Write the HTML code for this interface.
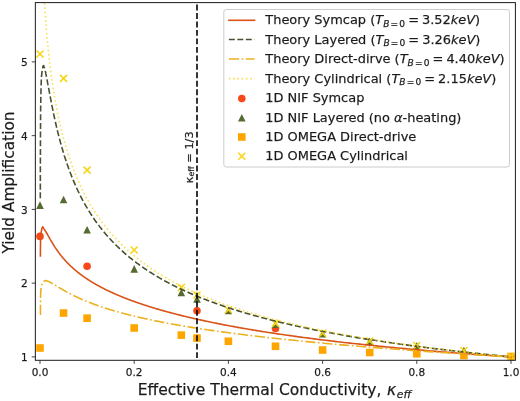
<!DOCTYPE html>
<html lang="en"><head><meta charset="utf-8"><title>Yield Amplification vs Effective Thermal Conductivity</title>
<style>html,body{margin:0;padding:0;background:#fff}svg{display:block}text{stroke:#1a1a1a;stroke-width:0.25px;stroke-opacity:0.8}</style></head>
<body>
<svg width="520" height="401" viewBox="0 0 520 401" font-family="'DejaVu Sans','Liberation Sans',sans-serif">
<rect width="520" height="401" fill="#fff"/>
<defs><clipPath id="ax"><rect x="35.35" y="2.6" width="480.04999999999995" height="357.7"/></clipPath></defs>
<g>
<circle cx="40.00" cy="236.41" r="3.80" fill="#f8481a"/>
<circle cx="87.10" cy="266.25" r="3.80" fill="#f8481a"/>
<circle cx="197.00" cy="310.82" r="3.80" fill="#f8481a"/>
<circle cx="275.50" cy="328.50" r="3.80" fill="#f8481a"/>
<path d="M40.00 201.30 L43.80 208.90 L36.20 208.90Z" fill="#556b2f"/>
<path d="M63.55 195.77 L67.35 203.37 L59.75 203.37Z" fill="#556b2f"/>
<path d="M87.10 225.98 L90.90 233.58 L83.30 233.58Z" fill="#556b2f"/>
<path d="M134.20 265.03 L138.00 272.63 L130.40 272.63Z" fill="#556b2f"/>
<path d="M181.30 288.75 L185.10 296.35 L177.50 296.35Z" fill="#556b2f"/>
<path d="M197.00 295.23 L200.80 302.83 L193.20 302.83Z" fill="#556b2f"/>
<path d="M228.40 306.65 L232.20 314.25 L224.60 314.25Z" fill="#556b2f"/>
<path d="M275.50 320.28 L279.30 327.88 L271.70 327.88Z" fill="#556b2f"/>
<path d="M322.60 329.86 L326.40 337.46 L318.80 337.46Z" fill="#556b2f"/>
<path d="M369.70 337.45 L373.50 345.05 L365.90 345.05Z" fill="#556b2f"/>
<path d="M416.80 341.94 L420.60 349.54 L413.00 349.54Z" fill="#556b2f"/>
<path d="M463.90 346.81 L467.70 354.41 L460.10 354.41Z" fill="#556b2f"/>
<path d="M511.00 352.70 L514.80 360.30 L507.20 360.30Z" fill="#556b2f"/>
<rect x="36.20" y="344.23" width="7.60" height="7.60" fill="#ffa500"/>
<rect x="59.75" y="309.23" width="7.60" height="7.60" fill="#ffa500"/>
<rect x="83.30" y="314.39" width="7.60" height="7.60" fill="#ffa500"/>
<rect x="130.40" y="324.19" width="7.60" height="7.60" fill="#ffa500"/>
<rect x="177.50" y="331.33" width="7.60" height="7.60" fill="#ffa500"/>
<rect x="193.20" y="334.28" width="7.60" height="7.60" fill="#ffa500"/>
<rect x="224.60" y="337.45" width="7.60" height="7.60" fill="#ffa500"/>
<rect x="271.70" y="342.46" width="7.60" height="7.60" fill="#ffa500"/>
<rect x="318.80" y="346.22" width="7.60" height="7.60" fill="#ffa500"/>
<rect x="365.90" y="348.72" width="7.60" height="7.60" fill="#ffa500"/>
<rect x="413.00" y="349.97" width="7.60" height="7.60" fill="#ffa500"/>
<rect x="460.10" y="351.67" width="7.60" height="7.60" fill="#ffa500"/>
<rect x="507.20" y="352.70" width="7.60" height="7.60" fill="#ffa500"/>
<path d="M36.50 50.57 L43.50 57.56 M36.50 57.56 L43.50 50.57" stroke="#f7d512" stroke-width="1.55" fill="none"/>
<path d="M60.05 74.88 L67.05 81.87 M60.05 81.87 L67.05 74.88" stroke="#f7d512" stroke-width="1.55" fill="none"/>
<path d="M83.60 166.61 L90.60 173.60 M83.60 173.60 L90.60 166.61" stroke="#f7d512" stroke-width="1.55" fill="none"/>
<path d="M130.70 246.54 L137.70 253.54 M130.70 253.54 L137.70 246.54" stroke="#f7d512" stroke-width="1.55" fill="none"/>
<path d="M177.80 284.04 L184.80 291.04 M177.80 291.04 L184.80 284.04" stroke="#f7d512" stroke-width="1.55" fill="none"/>
<path d="M193.50 291.56 L200.50 298.55 M193.50 298.55 L200.50 291.56" stroke="#f7d512" stroke-width="1.55" fill="none"/>
<path d="M224.90 306.22 L231.90 313.21 M224.90 313.21 L231.90 306.22" stroke="#f7d512" stroke-width="1.55" fill="none"/>
<path d="M272.00 319.85 L279.00 326.84 M272.00 326.84 L279.00 319.85" stroke="#f7d512" stroke-width="1.55" fill="none"/>
<path d="M319.10 329.80 L326.10 336.79 M319.10 336.79 L326.10 329.80" stroke="#f7d512" stroke-width="1.55" fill="none"/>
<path d="M366.20 337.53 L373.20 344.52 M366.20 344.52 L373.20 337.53" stroke="#f7d512" stroke-width="1.55" fill="none"/>
<path d="M413.30 341.95 L420.30 348.94 M413.30 348.94 L420.30 341.95" stroke="#f7d512" stroke-width="1.55" fill="none"/>
<path d="M460.40 346.96 L467.40 353.95 M460.40 353.95 L467.40 346.96" stroke="#f7d512" stroke-width="1.55" fill="none"/>
<path d="M507.50 353.00 L514.50 360.00 M507.50 360.00 L514.50 353.00" stroke="#f7d512" stroke-width="1.55" fill="none"/>
</g>
<g clip-path="url(#ax)" fill="none" stroke-linejoin="round">
<path d="M40.40 256.00 L40.40 255.26 L40.40 254.53 L40.41 253.79 L40.41 253.06 L40.41 252.32 L40.42 251.58 L40.43 250.85 L40.43 250.11 L40.44 249.38 L40.45 248.64 L40.46 247.91 L40.47 247.17 L40.48 246.43 L40.49 245.70 L40.50 244.96 L40.51 244.23 L40.53 243.49 L40.54 242.75 L40.56 242.02 L40.58 241.28 L40.60 240.55 L40.63 239.81 L40.66 239.07 L40.69 238.34 L40.72 237.60 L40.76 236.87 L40.82 236.13 L40.88 235.39 L40.96 234.66 L41.03 233.92 L41.12 233.19 L41.21 232.45 L41.30 231.72 L41.42 230.98 L41.55 230.24 L41.69 229.51 L41.85 228.77 L42.06 228.04 L42.30 227.30 L42.60 226.80 L42.90 226.91 L42.93 226.98 L42.96 227.06 L42.99 227.13 L43.02 227.20 L43.05 227.27 L43.08 227.33 L43.11 227.40 L43.15 227.47 L43.18 227.53 L43.21 227.60 L43.24 227.66 L43.28 227.73 L43.31 227.79 L43.35 227.85 L43.38 227.91 L43.41 227.97 L43.45 228.03 L43.48 228.09 L43.52 228.15 L43.56 228.22 L43.59 228.28 L43.63 228.34 L43.67 228.39 L43.70 228.45 L43.74 228.51 L43.78 228.57 L43.82 228.63 L43.86 228.70 L43.90 228.76 L43.94 228.82 L43.98 228.88 L44.02 228.94 L44.06 229.00 L44.10 229.06 L44.14 229.13 L44.19 229.19 L44.23 229.25 L44.27 229.32 L44.32 229.38 L44.36 229.45 L44.41 229.51 L44.45 229.58 L44.50 229.65 L44.54 229.72 L44.59 229.79 L44.64 229.86 L44.68 229.93 L44.73 230.00 L44.78 230.07 L44.83 230.15 L44.88 230.22 L44.93 230.30 L44.98 230.38 L45.03 230.45 L45.08 230.53 L45.13 230.61 L45.19 230.70 L45.24 230.78 L45.29 230.86 L45.35 230.95 L45.40 231.03 L45.46 231.12 L45.51 231.21 L45.57 231.30 L45.63 231.39 L45.69 231.48 L45.74 231.58 L45.80 231.67 L45.86 231.77 L45.92 231.87 L45.98 231.97 L46.04 232.07 L46.11 232.17 L46.17 232.27 L46.23 232.38 L46.30 232.48 L46.36 232.59 L46.43 232.70 L46.49 232.81 L46.56 232.93 L46.63 233.04 L46.69 233.15 L46.76 233.27 L46.83 233.39 L46.90 233.51 L46.97 233.63 L47.04 233.76 L47.12 233.88 L47.19 234.01 L47.26 234.13 L47.34 234.26 L47.41 234.39 L47.49 234.53 L47.57 234.66 L47.64 234.80 L47.72 234.93 L47.80 235.07 L47.88 235.21 L47.96 235.36 L48.04 235.50 L48.13 235.65 L48.21 235.79 L48.29 235.94 L48.38 236.09 L48.46 236.24 L48.55 236.40 L48.64 236.55 L48.73 236.71 L48.82 236.87 L48.91 237.03 L49.00 237.19 L49.09 237.35 L49.18 237.51 L49.28 237.68 L49.37 237.85 L49.47 238.02 L49.57 238.19 L49.66 238.36 L49.76 238.54 L49.86 238.71 L49.96 238.89 L50.07 239.07 L50.17 239.25 L50.27 239.43 L50.38 239.61 L50.49 239.80 L50.59 239.98 L50.70 240.17 L50.81 240.36 L50.92 240.55 L51.03 240.74 L51.15 240.94 L51.26 241.13 L51.38 241.33 L51.49 241.53 L51.61 241.73 L51.73 241.93 L51.85 242.13 L51.97 242.34 L52.10 242.54 L52.22 242.75 L52.34 242.96 L52.47 243.17 L52.60 243.38 L52.73 243.59 L52.86 243.80 L52.99 244.02 L53.12 244.23 L53.26 244.45 L53.39 244.67 L53.53 244.89 L53.67 245.11 L53.81 245.34 L53.95 245.56 L54.09 245.79 L54.24 246.01 L54.39 246.24 L54.53 246.47 L54.68 246.70 L54.83 246.94 L54.98 247.17 L55.14 247.40 L55.29 247.64 L55.45 247.88 L55.61 248.11 L55.77 248.35 L55.93 248.59 L56.09 248.84 L56.26 249.08 L56.43 249.32 L56.59 249.57 L56.76 249.81 L56.94 250.06 L57.11 250.31 L57.28 250.56 L57.46 250.81 L57.64 251.06 L57.82 251.31 L58.00 251.57 L58.19 251.82 L58.38 252.08 L58.56 252.33 L58.75 252.59 L58.95 252.85 L59.14 253.11 L59.34 253.37 L59.54 253.63 L59.74 253.90 L59.94 254.16 L60.14 254.43 L60.35 254.69 L60.56 254.96 L60.77 255.22 L60.98 255.49 L61.20 255.76 L61.41 256.03 L61.63 256.30 L61.86 256.57 L62.08 256.85 L62.31 257.12 L62.53 257.40 L62.77 257.67 L63.00 257.95 L63.23 258.22 L63.47 258.50 L63.71 258.78 L63.96 259.06 L64.20 259.34 L64.45 259.62 L64.70 259.90 L64.95 260.18 L65.21 260.47 L65.47 260.75 L65.73 261.03 L65.99 261.32 L66.26 261.61 L66.53 261.89 L66.80 262.18 L67.08 262.47 L67.35 262.76 L67.63 263.05 L67.92 263.34 L68.20 263.63 L68.49 263.92 L68.79 264.21 L69.08 264.50 L69.38 264.80 L69.68 265.09 L69.98 265.39 L70.29 265.68 L70.60 265.98 L70.92 266.27 L71.23 266.57 L71.55 266.87 L71.88 267.17 L72.20 267.46 L72.53 267.76 L72.87 268.06 L73.20 268.36 L73.54 268.67 L73.89 268.97 L74.24 269.27 L74.59 269.57 L74.94 269.88 L75.30 270.18 L75.66 270.48 L76.03 270.79 L76.40 271.09 L76.77 271.40 L77.15 271.71 L77.53 272.01 L77.91 272.32 L78.30 272.63 L78.69 272.94 L79.09 273.25 L79.49 273.56 L79.90 273.87 L80.31 274.18 L80.72 274.49 L81.14 274.80 L81.56 275.11 L81.98 275.42 L82.41 275.74 L82.85 276.05 L83.29 276.36 L83.73 276.68 L84.18 276.99 L84.63 277.31 L85.09 277.62 L85.55 277.94 L86.02 278.26 L86.49 278.57 L86.97 278.89 L87.45 279.21 L87.94 279.53 L88.43 279.85 L88.93 280.17 L89.43 280.49 L89.93 280.81 L90.45 281.13 L90.96 281.45 L91.49 281.77 L92.01 282.09 L92.55 282.41 L93.09 282.73 L93.63 283.06 L94.18 283.38 L94.74 283.71 L95.30 284.03 L95.86 284.35 L96.44 284.68 L97.01 285.00 L97.60 285.33 L98.19 285.66 L98.79 285.98 L99.39 286.31 L100.00 286.64 L100.61 286.97 L101.23 287.29 L101.86 287.62 L102.50 287.95 L103.14 288.28 L103.79 288.61 L104.44 288.94 L105.10 289.27 L105.77 289.60 L106.44 289.94 L107.12 290.27 L107.81 290.60 L108.51 290.93 L109.21 291.27 L109.92 291.60 L110.64 291.93 L111.36 292.27 L112.09 292.60 L112.83 292.94 L113.58 293.27 L114.33 293.61 L115.09 293.95 L115.86 294.28 L116.64 294.62 L117.43 294.96 L118.22 295.29 L119.02 295.63 L119.83 295.97 L120.65 296.31 L121.48 296.65 L122.31 296.99 L123.16 297.33 L124.01 297.67 L124.87 298.01 L125.74 298.35 L126.62 298.69 L127.51 299.04 L128.41 299.38 L129.31 299.72 L130.23 300.06 L131.15 300.41 L132.09 300.75 L133.03 301.09 L133.99 301.44 L134.95 301.78 L135.92 302.13 L136.91 302.47 L137.90 302.82 L138.90 303.17 L139.92 303.51 L140.94 303.86 L141.98 304.21 L143.02 304.56 L144.08 304.90 L145.15 305.25 L146.22 305.60 L147.31 305.95 L148.41 306.30 L149.53 306.65 L150.65 307.00 L151.78 307.35 L152.93 307.70 L154.09 308.05 L155.26 308.40 L156.44 308.75 L157.63 309.11 L158.84 309.46 L160.06 309.81 L161.29 310.16 L162.53 310.52 L163.79 310.87 L165.06 311.22 L166.34 311.58 L167.63 311.93 L168.94 312.29 L170.26 312.64 L171.60 313.00 L172.95 313.35 L174.31 313.71 L175.69 314.06 L177.08 314.42 L178.49 314.78 L179.91 315.13 L181.34 315.49 L182.79 315.85 L184.25 316.21 L185.73 316.56 L187.23 316.92 L188.74 317.28 L190.26 317.64 L191.80 318.00 L193.36 318.35 L194.93 318.71 L196.52 319.07 L198.12 319.43 L199.75 319.79 L201.38 320.15 L203.04 320.51 L204.71 320.87 L206.40 321.23 L208.10 321.59 L209.83 321.95 L211.57 322.31 L213.33 322.67 L215.11 323.03 L216.90 323.39 L218.71 323.75 L220.55 324.12 L222.40 324.48 L224.27 324.84 L226.16 325.20 L228.07 325.56 L229.99 325.92 L231.94 326.28 L233.91 326.64 L235.90 327.01 L237.91 327.37 L239.94 327.73 L241.99 328.09 L244.06 328.45 L246.15 328.81 L248.26 329.17 L250.40 329.53 L252.56 329.90 L254.73 330.26 L256.94 330.62 L259.16 330.98 L261.41 331.34 L263.68 331.70 L265.97 332.06 L268.29 332.42 L270.63 332.78 L272.99 333.14 L275.38 333.50 L277.80 333.86 L280.23 334.22 L282.70 334.58 L285.19 334.94 L287.70 335.30 L290.24 335.66 L292.80 336.02 L295.40 336.37 L298.01 336.73 L300.66 337.09 L303.33 337.45 L306.03 337.81 L308.76 338.16 L311.52 338.52 L314.30 338.88 L317.11 339.23 L319.95 339.59 L322.82 339.94 L325.72 340.30 L328.65 340.65 L331.61 341.00 L334.60 341.36 L337.62 341.71 L340.67 342.06 L343.76 342.42 L346.87 342.77 L350.02 343.12 L353.20 343.47 L356.41 343.82 L359.65 344.17 L362.93 344.52 L366.24 344.87 L369.58 345.21 L372.96 345.56 L376.38 345.91 L379.83 346.25 L383.31 346.60 L386.83 346.94 L390.39 347.29 L393.98 347.63 L397.61 347.97 L401.28 348.31 L404.98 348.66 L408.72 349.00 L412.50 349.34 L416.32 349.67 L420.18 350.01 L424.08 350.35 L428.02 350.69 L431.99 351.02 L436.01 351.36 L440.07 351.69 L444.17 352.02 L448.32 352.35 L452.51 352.69 L456.73 353.02 L461.01 353.35 L465.32 353.67 L469.68 354.00 L474.09 354.33 L478.54 354.65 L483.04 354.98 L487.58 355.30 L492.17 355.62 L496.80 355.94 L501.49 356.26 L506.22 356.58 L511.00 356.90" stroke="#d95319" stroke-width="1.6" stroke-linecap="square"/>
<path d="M40.30 198.30 L40.30 196.64 L40.31 194.97 L40.31 193.31 L40.31 191.64 L40.32 189.98 L40.32 188.31 L40.32 186.65 L40.33 184.98 L40.33 183.32 L40.34 181.65 L40.34 179.99 L40.35 178.33 L40.35 176.66 L40.35 175.00 L40.36 173.33 L40.36 171.67 L40.37 170.00 L40.37 168.34 L40.38 166.67 L40.38 165.01 L40.39 163.34 L40.39 161.68 L40.40 160.02 L40.41 158.35 L40.41 156.69 L40.42 155.02 L40.42 153.36 L40.43 151.69 L40.43 150.03 L40.44 148.36 L40.44 146.70 L40.45 145.03 L40.45 143.37 L40.46 141.71 L40.47 140.04 L40.47 138.38 L40.48 136.71 L40.49 135.05 L40.49 133.38 L40.50 131.72 L40.51 130.05 L40.52 128.39 L40.53 126.72 L40.54 125.06 L40.54 123.39 L40.55 121.73 L40.57 120.07 L40.58 118.40 L40.59 116.74 L40.60 115.07 L40.61 113.41 L40.63 111.74 L40.64 110.08 L40.66 108.41 L40.68 106.75 L40.71 105.08 L40.73 103.42 L40.76 101.76 L40.79 100.09 L40.82 98.43 L40.85 96.76 L40.88 95.10 L40.92 93.43 L40.96 91.77 L41.00 90.10 L41.04 88.44 L41.08 86.77 L41.13 85.11 L41.18 83.45 L41.24 81.78 L41.32 80.12 L41.41 78.45 L41.51 76.79 L41.65 75.12 L41.83 73.46 L42.05 71.79 L42.28 70.13 L42.56 68.46 L42.90 66.80 L43.20 65.80 L43.50 65.50 L43.80 66.00 L44.10 66.87 L44.14 66.97 L44.18 67.07 L44.22 67.18 L44.26 67.29 L44.30 67.41 L44.34 67.53 L44.38 67.65 L44.42 67.78 L44.47 67.91 L44.51 68.05 L44.55 68.19 L44.60 68.34 L44.64 68.49 L44.68 68.65 L44.73 68.81 L44.77 68.97 L44.82 69.14 L44.87 69.31 L44.91 69.49 L44.96 69.67 L45.01 69.86 L45.05 70.05 L45.10 70.25 L45.15 70.45 L45.20 70.65 L45.25 70.86 L45.30 71.08 L45.35 71.30 L45.40 71.52 L45.45 71.75 L45.51 71.98 L45.56 72.22 L45.61 72.46 L45.66 72.70 L45.72 72.96 L45.77 73.21 L45.83 73.47 L45.88 73.74 L45.94 74.01 L46.00 74.28 L46.05 74.56 L46.11 74.84 L46.17 75.13 L46.23 75.42 L46.29 75.72 L46.35 76.02 L46.41 76.33 L46.47 76.64 L46.53 76.95 L46.60 77.27 L46.66 77.59 L46.72 77.92 L46.79 78.26 L46.85 78.59 L46.92 78.94 L46.98 79.28 L47.05 79.63 L47.12 79.99 L47.18 80.35 L47.25 80.71 L47.32 81.08 L47.39 81.46 L47.46 81.83 L47.53 82.22 L47.61 82.60 L47.68 82.99 L47.75 83.39 L47.83 83.79 L47.90 84.19 L47.98 84.60 L48.05 85.01 L48.13 85.43 L48.21 85.85 L48.29 86.28 L48.36 86.71 L48.44 87.14 L48.53 87.58 L48.61 88.02 L48.69 88.46 L48.77 88.91 L48.86 89.37 L48.94 89.83 L49.03 90.29 L49.11 90.76 L49.20 91.23 L49.29 91.70 L49.38 92.18 L49.46 92.66 L49.56 93.15 L49.65 93.64 L49.74 94.13 L49.83 94.63 L49.93 95.13 L50.02 95.64 L50.12 96.15 L50.21 96.66 L50.31 97.18 L50.41 97.70 L50.51 98.22 L50.61 98.75 L50.71 99.28 L50.81 99.82 L50.92 100.35 L51.02 100.90 L51.13 101.44 L51.23 101.99 L51.34 102.54 L51.45 103.10 L51.56 103.66 L51.67 104.22 L51.78 104.79 L51.89 105.36 L52.00 105.93 L52.12 106.51 L52.23 107.09 L52.35 107.67 L52.47 108.25 L52.59 108.84 L52.71 109.44 L52.83 110.03 L52.95 110.63 L53.08 111.23 L53.20 111.83 L53.33 112.44 L53.45 113.05 L53.58 113.67 L53.71 114.28 L53.84 114.90 L53.98 115.52 L54.11 116.15 L54.24 116.77 L54.38 117.40 L54.52 118.04 L54.66 118.67 L54.80 119.31 L54.94 119.95 L55.08 120.59 L55.22 121.24 L55.37 121.89 L55.52 122.54 L55.67 123.19 L55.81 123.85 L55.97 124.51 L56.12 125.17 L56.27 125.83 L56.43 126.50 L56.58 127.16 L56.74 127.83 L56.90 128.51 L57.06 129.18 L57.23 129.86 L57.39 130.54 L57.56 131.22 L57.73 131.90 L57.90 132.59 L58.07 133.27 L58.24 133.96 L58.41 134.65 L58.59 135.34 L58.77 136.04 L58.95 136.74 L59.13 137.43 L59.31 138.13 L59.49 138.84 L59.68 139.54 L59.87 140.25 L60.06 140.95 L60.25 141.66 L60.44 142.37 L60.64 143.08 L60.84 143.80 L61.03 144.51 L61.24 145.23 L61.44 145.95 L61.64 146.67 L61.85 147.39 L62.06 148.11 L62.27 148.84 L62.48 149.56 L62.70 150.29 L62.91 151.02 L63.13 151.74 L63.35 152.48 L63.58 153.21 L63.80 153.94 L64.03 154.67 L64.26 155.41 L64.49 156.14 L64.72 156.88 L64.96 157.62 L65.20 158.36 L65.44 159.10 L65.68 159.84 L65.93 160.58 L66.17 161.33 L66.43 162.07 L66.68 162.81 L66.93 163.56 L67.19 164.31 L67.45 165.05 L67.71 165.80 L67.98 166.55 L68.24 167.30 L68.51 168.05 L68.79 168.80 L69.06 169.55 L69.34 170.30 L69.62 171.06 L69.90 171.81 L70.19 172.56 L70.48 173.32 L70.77 174.07 L71.06 174.83 L71.36 175.58 L71.66 176.34 L71.96 177.09 L72.26 177.85 L72.57 178.61 L72.88 179.37 L73.20 180.12 L73.51 180.88 L73.83 181.64 L74.16 182.40 L74.48 183.16 L74.81 183.91 L75.15 184.67 L75.48 185.43 L75.82 186.19 L76.16 186.95 L76.51 187.71 L76.86 188.47 L77.21 189.23 L77.56 189.99 L77.92 190.75 L78.29 191.51 L78.65 192.27 L79.02 193.03 L79.39 193.79 L79.77 194.55 L80.15 195.31 L80.53 196.06 L80.92 196.82 L81.31 197.58 L81.71 198.34 L82.10 199.10 L82.51 199.86 L82.91 200.61 L83.32 201.37 L83.74 202.13 L84.15 202.89 L84.58 203.64 L85.00 204.40 L85.43 205.16 L85.87 205.91 L86.30 206.67 L86.75 207.42 L87.19 208.18 L87.64 208.93 L88.10 209.68 L88.56 210.44 L89.02 211.19 L89.49 211.94 L89.96 212.69 L90.44 213.44 L90.92 214.19 L91.41 214.94 L91.90 215.69 L92.39 216.44 L92.89 217.19 L93.40 217.94 L93.91 218.69 L94.43 219.43 L94.94 220.18 L95.47 220.92 L96.00 221.67 L96.53 222.41 L97.07 223.15 L97.62 223.90 L98.17 224.64 L98.73 225.38 L99.29 226.12 L99.85 226.86 L100.42 227.60 L101.00 228.33 L101.58 229.07 L102.17 229.81 L102.77 230.54 L103.37 231.28 L103.97 232.01 L104.58 232.74 L105.20 233.48 L105.82 234.21 L106.45 234.94 L107.09 235.67 L107.73 236.39 L108.37 237.12 L109.03 237.85 L109.69 238.57 L110.35 239.30 L111.02 240.02 L111.70 240.74 L112.39 241.46 L113.08 242.19 L113.78 242.90 L114.48 243.62 L115.19 244.34 L115.91 245.06 L116.64 245.77 L117.37 246.49 L118.11 247.20 L118.85 247.91 L119.61 248.62 L120.37 249.33 L121.13 250.04 L121.91 250.75 L122.69 251.46 L123.48 252.16 L124.28 252.87 L125.08 253.57 L125.90 254.27 L126.72 254.97 L127.55 255.67 L128.38 256.37 L129.23 257.07 L130.08 257.77 L130.94 258.46 L131.81 259.15 L132.68 259.85 L133.57 260.54 L134.46 261.23 L135.37 261.92 L136.28 262.61 L137.20 263.29 L138.13 263.98 L139.06 264.66 L140.01 265.35 L140.96 266.03 L141.93 266.71 L142.90 267.39 L143.88 268.06 L144.88 268.74 L145.88 269.42 L146.89 270.09 L147.91 270.76 L148.94 271.43 L149.98 272.10 L151.03 272.77 L152.09 273.44 L153.16 274.10 L154.25 274.77 L155.34 275.43 L156.44 276.09 L157.55 276.76 L158.67 277.41 L159.81 278.07 L160.95 278.73 L162.11 279.38 L163.27 280.04 L164.45 280.69 L165.64 281.34 L166.84 281.99 L168.05 282.64 L169.27 283.29 L170.51 283.93 L171.76 284.58 L173.01 285.22 L174.29 285.86 L175.57 286.50 L176.86 287.14 L178.17 287.77 L179.49 288.41 L180.82 289.04 L182.17 289.68 L183.53 290.31 L184.90 290.94 L186.28 291.56 L187.68 292.19 L189.09 292.82 L190.51 293.44 L191.95 294.06 L193.40 294.68 L194.87 295.30 L196.35 295.92 L197.84 296.54 L199.35 297.15 L200.87 297.77 L202.41 298.38 L203.96 298.99 L205.52 299.60 L207.10 300.21 L208.70 300.81 L210.31 301.42 L211.94 302.02 L213.58 302.62 L215.24 303.22 L216.91 303.82 L218.60 304.42 L220.31 305.01 L222.03 305.61 L223.77 306.20 L225.53 306.79 L227.30 307.38 L229.09 307.97 L230.89 308.55 L232.72 309.14 L234.56 309.72 L236.42 310.30 L238.29 310.88 L240.19 311.46 L242.10 312.04 L244.03 312.61 L245.98 313.19 L247.95 313.76 L249.93 314.33 L251.94 314.90 L253.96 315.47 L256.01 316.03 L258.07 316.60 L260.15 317.16 L262.25 317.72 L264.38 318.28 L266.52 318.84 L268.68 319.39 L270.87 319.95 L273.07 320.50 L275.30 321.05 L277.55 321.60 L279.82 322.15 L282.11 322.70 L284.42 323.24 L286.76 323.79 L289.11 324.33 L291.49 324.87 L293.89 325.41 L296.32 325.95 L298.77 326.48 L301.24 327.02 L303.74 327.55 L306.25 328.08 L308.80 328.61 L311.37 329.14 L313.96 329.66 L316.57 330.19 L319.22 330.71 L321.88 331.23 L324.58 331.75 L327.29 332.27 L330.04 332.78 L332.81 333.30 L335.61 333.81 L338.43 334.32 L341.28 334.83 L344.16 335.34 L347.06 335.85 L350.00 336.35 L352.96 336.85 L355.95 337.36 L358.96 337.85 L362.01 338.35 L365.09 338.85 L368.19 339.34 L371.33 339.84 L374.49 340.33 L377.69 340.82 L380.91 341.31 L384.17 341.79 L387.46 342.28 L390.78 342.76 L394.13 343.24 L397.51 343.72 L400.92 344.20 L404.37 344.68 L407.85 345.15 L411.37 345.62 L414.91 346.09 L418.49 346.56 L422.11 347.03 L425.76 347.50 L429.45 347.96 L433.17 348.43 L436.92 348.89 L440.71 349.35 L444.54 349.80 L448.40 350.26 L452.31 350.72 L456.24 351.17 L460.22 351.62 L464.23 352.07 L468.29 352.52 L472.38 352.96 L476.51 353.41 L480.68 353.85 L484.89 354.29 L489.14 354.73 L493.43 355.17 L497.76 355.60 L502.13 356.04 L506.54 356.47 L511.00 356.90" stroke="#47522f" stroke-width="1.6" stroke-dasharray="6.05 2.62"/>
<path d="M40.45 315.00 L40.45 314.16 L40.45 313.31 L40.45 312.47 L40.45 311.63 L40.45 310.78 L40.46 309.94 L40.46 309.09 L40.46 308.25 L40.46 307.41 L40.47 306.56 L40.47 305.72 L40.47 304.88 L40.48 304.03 L40.48 303.19 L40.49 302.35 L40.49 301.50 L40.50 300.66 L40.50 299.82 L40.51 298.97 L40.52 298.13 L40.54 297.28 L40.56 296.44 L40.59 295.60 L40.62 294.75 L40.65 293.91 L40.69 293.07 L40.73 292.22 L40.78 291.38 L40.83 290.54 L40.91 289.69 L41.02 288.85 L41.15 288.01 L41.30 287.16 L41.48 286.32 L41.68 285.47 L41.91 284.63 L42.26 283.79 L42.71 282.94 L43.20 282.10 L44.20 281.20 L45.20 280.60 L46.10 280.64 L46.15 280.65 L46.21 280.67 L46.26 280.68 L46.32 280.70 L46.37 280.71 L46.43 280.73 L46.48 280.75 L46.54 280.76 L46.60 280.78 L46.66 280.80 L46.71 280.82 L46.77 280.84 L46.83 280.85 L46.89 280.87 L46.95 280.89 L47.01 280.91 L47.07 280.94 L47.14 280.96 L47.20 280.98 L47.26 281.00 L47.32 281.02 L47.39 281.05 L47.45 281.07 L47.52 281.10 L47.58 281.12 L47.65 281.15 L47.72 281.17 L47.78 281.20 L47.85 281.23 L47.92 281.25 L47.99 281.28 L48.06 281.31 L48.13 281.34 L48.20 281.37 L48.27 281.40 L48.35 281.43 L48.42 281.46 L48.49 281.50 L48.57 281.53 L48.64 281.56 L48.72 281.60 L48.79 281.63 L48.87 281.67 L48.95 281.70 L49.03 281.74 L49.11 281.78 L49.19 281.81 L49.27 281.85 L49.35 281.89 L49.43 281.93 L49.51 281.97 L49.59 282.01 L49.68 282.06 L49.76 282.10 L49.85 282.14 L49.94 282.18 L50.02 282.23 L50.11 282.27 L50.20 282.32 L50.29 282.37 L50.38 282.41 L50.47 282.46 L50.56 282.51 L50.65 282.56 L50.75 282.61 L50.84 282.66 L50.93 282.71 L51.03 282.76 L51.13 282.82 L51.22 282.87 L51.32 282.92 L51.42 282.98 L51.52 283.03 L51.62 283.09 L51.72 283.15 L51.83 283.20 L51.93 283.26 L52.03 283.32 L52.14 283.38 L52.25 283.44 L52.35 283.50 L52.46 283.57 L52.57 283.63 L52.68 283.69 L52.79 283.76 L52.90 283.82 L53.02 283.89 L53.13 283.95 L53.24 284.02 L53.36 284.09 L53.48 284.16 L53.59 284.23 L53.71 284.30 L53.83 284.37 L53.95 284.44 L54.08 284.51 L54.20 284.59 L54.32 284.66 L54.45 284.74 L54.58 284.81 L54.70 284.89 L54.83 284.97 L54.96 285.04 L55.09 285.12 L55.22 285.20 L55.36 285.28 L55.49 285.36 L55.63 285.44 L55.76 285.53 L55.90 285.61 L56.04 285.69 L56.18 285.78 L56.32 285.86 L56.47 285.95 L56.61 286.04 L56.76 286.13 L56.90 286.21 L57.05 286.30 L57.20 286.39 L57.35 286.48 L57.50 286.58 L57.65 286.67 L57.81 286.76 L57.96 286.86 L58.12 286.95 L58.28 287.05 L58.44 287.14 L58.60 287.24 L58.76 287.34 L58.93 287.43 L59.09 287.53 L59.26 287.63 L59.43 287.73 L59.60 287.84 L59.77 287.94 L59.94 288.04 L60.12 288.14 L60.29 288.25 L60.47 288.35 L60.65 288.46 L60.83 288.57 L61.01 288.67 L61.20 288.78 L61.38 288.89 L61.57 289.00 L61.76 289.11 L61.95 289.22 L62.14 289.33 L62.34 289.45 L62.53 289.56 L62.73 289.67 L62.93 289.79 L63.13 289.90 L63.33 290.02 L63.53 290.14 L63.74 290.25 L63.95 290.37 L64.16 290.49 L64.37 290.61 L64.58 290.73 L64.80 290.85 L65.01 290.97 L65.23 291.09 L65.45 291.22 L65.68 291.34 L65.90 291.47 L66.13 291.59 L66.36 291.72 L66.59 291.84 L66.82 291.97 L67.05 292.10 L67.29 292.23 L67.53 292.36 L67.77 292.49 L68.01 292.62 L68.26 292.75 L68.50 292.88 L68.75 293.01 L69.01 293.15 L69.26 293.28 L69.52 293.42 L69.77 293.55 L70.03 293.69 L70.30 293.82 L70.56 293.96 L70.83 294.10 L71.10 294.24 L71.37 294.38 L71.65 294.52 L71.92 294.66 L72.20 294.80 L72.48 294.94 L72.77 295.08 L73.05 295.23 L73.34 295.37 L73.63 295.51 L73.93 295.66 L74.23 295.80 L74.53 295.95 L74.83 296.10 L75.13 296.24 L75.44 296.39 L75.75 296.54 L76.06 296.69 L76.38 296.84 L76.70 296.99 L77.02 297.14 L77.34 297.29 L77.67 297.44 L78.00 297.60 L78.33 297.75 L78.66 297.90 L79.00 298.06 L79.34 298.21 L79.69 298.37 L80.04 298.53 L80.39 298.68 L80.74 298.84 L81.10 299.00 L81.46 299.16 L81.82 299.31 L82.18 299.47 L82.55 299.63 L82.92 299.79 L83.30 299.95 L83.68 300.12 L84.06 300.28 L84.45 300.44 L84.84 300.60 L85.23 300.77 L85.62 300.93 L86.02 301.10 L86.43 301.26 L86.83 301.43 L87.24 301.59 L87.65 301.76 L88.07 301.93 L88.49 302.10 L88.92 302.26 L89.34 302.43 L89.78 302.60 L90.21 302.77 L90.65 302.94 L91.09 303.11 L91.54 303.28 L91.99 303.45 L92.45 303.63 L92.91 303.80 L93.37 303.97 L93.84 304.14 L94.31 304.32 L94.78 304.49 L95.26 304.67 L95.74 304.84 L96.23 305.02 L96.72 305.19 L97.22 305.37 L97.72 305.55 L98.23 305.73 L98.73 305.90 L99.25 306.08 L99.77 306.26 L100.29 306.44 L100.82 306.62 L101.35 306.80 L101.89 306.98 L102.43 307.16 L102.97 307.34 L103.52 307.52 L104.08 307.71 L104.64 307.89 L105.21 308.07 L105.78 308.25 L106.35 308.44 L106.93 308.62 L107.52 308.81 L108.11 308.99 L108.71 309.18 L109.31 309.36 L109.91 309.55 L110.52 309.73 L111.14 309.92 L111.76 310.11 L112.39 310.30 L113.02 310.48 L113.66 310.67 L114.31 310.86 L114.96 311.05 L115.61 311.24 L116.28 311.43 L116.94 311.62 L117.62 311.81 L118.29 312.00 L118.98 312.19 L119.67 312.38 L120.37 312.57 L121.07 312.77 L121.78 312.96 L122.50 313.15 L123.22 313.34 L123.95 313.54 L124.68 313.73 L125.42 313.93 L126.17 314.12 L126.92 314.32 L127.68 314.51 L128.45 314.71 L129.22 314.90 L130.00 315.10 L130.79 315.29 L131.59 315.49 L132.39 315.69 L133.19 315.88 L134.01 316.08 L134.83 316.28 L135.66 316.48 L136.50 316.68 L137.34 316.88 L138.20 317.07 L139.05 317.27 L139.92 317.47 L140.80 317.67 L141.68 317.87 L142.57 318.07 L143.46 318.28 L144.37 318.48 L145.28 318.68 L146.20 318.88 L147.13 319.08 L148.07 319.28 L149.01 319.49 L149.97 319.69 L150.93 319.89 L151.90 320.10 L152.88 320.30 L153.87 320.50 L154.86 320.71 L155.87 320.91 L156.88 321.12 L157.90 321.32 L158.94 321.53 L159.98 321.73 L161.03 321.94 L162.09 322.14 L163.15 322.35 L164.23 322.56 L165.32 322.76 L166.41 322.97 L167.52 323.18 L168.64 323.39 L169.76 323.59 L170.90 323.80 L172.04 324.01 L173.20 324.22 L174.36 324.43 L175.54 324.64 L176.72 324.84 L177.92 325.05 L179.13 325.26 L180.34 325.47 L181.57 325.68 L182.81 325.90 L184.06 326.11 L185.32 326.32 L186.59 326.53 L187.87 326.74 L189.17 326.95 L190.47 327.16 L191.79 327.38 L193.12 327.59 L194.46 327.80 L195.81 328.01 L197.17 328.23 L198.54 328.44 L199.93 328.65 L201.33 328.87 L202.74 329.08 L204.17 329.30 L205.60 329.51 L207.05 329.72 L208.51 329.94 L209.99 330.16 L211.47 330.37 L212.97 330.59 L214.49 330.80 L216.01 331.02 L217.55 331.23 L219.11 331.45 L220.67 331.67 L222.26 331.88 L223.85 332.10 L225.46 332.32 L227.08 332.54 L228.72 332.76 L230.37 332.97 L232.03 333.19 L233.71 333.41 L235.41 333.63 L237.12 333.85 L238.84 334.07 L240.58 334.29 L242.34 334.51 L244.11 334.73 L245.89 334.95 L247.69 335.17 L249.51 335.39 L251.34 335.61 L253.19 335.83 L255.06 336.05 L256.94 336.27 L258.84 336.49 L260.75 336.72 L262.68 336.94 L264.63 337.16 L266.60 337.38 L268.58 337.61 L270.58 337.83 L272.60 338.05 L274.63 338.28 L276.68 338.50 L278.75 338.72 L280.84 338.95 L282.95 339.17 L285.08 339.40 L287.22 339.62 L289.38 339.85 L291.56 340.07 L293.76 340.30 L295.99 340.52 L298.22 340.75 L300.48 340.98 L302.76 341.20 L305.06 341.43 L307.38 341.66 L309.72 341.88 L312.08 342.11 L314.46 342.34 L316.86 342.57 L319.28 342.79 L321.73 343.02 L324.19 343.25 L326.68 343.48 L329.19 343.71 L331.72 343.94 L334.27 344.17 L336.84 344.40 L339.44 344.63 L342.06 344.86 L344.70 345.09 L347.37 345.32 L350.06 345.55 L352.77 345.78 L355.50 346.01 L358.26 346.24 L361.05 346.47 L363.86 346.71 L366.69 346.94 L369.55 347.17 L372.43 347.40 L375.34 347.64 L378.27 347.87 L381.23 348.10 L384.22 348.34 L387.23 348.57 L390.27 348.80 L393.33 349.04 L396.42 349.27 L399.54 349.51 L402.69 349.74 L405.86 349.98 L409.06 350.21 L412.29 350.45 L415.55 350.69 L418.83 350.92 L422.15 351.16 L425.49 351.39 L428.86 351.63 L432.26 351.87 L435.70 352.11 L439.16 352.34 L442.65 352.58 L446.17 352.82 L449.73 353.06 L453.31 353.30 L456.93 353.53 L460.57 353.77 L464.25 354.01 L467.97 354.25 L471.71 354.49 L475.49 354.73 L479.30 354.97 L483.14 355.21 L487.02 355.45 L490.93 355.69 L494.87 355.93 L498.85 356.17 L502.87 356.42 L506.92 356.66 L511.00 356.90" stroke="#edb120" stroke-width="1.6" stroke-dasharray="10.24 2.56 1.60 2.56"/>
<path d="M44.00 -5.29 L44.04 -4.61 L44.08 -3.92 L44.12 -3.23 L44.16 -2.54 L44.20 -1.85 L44.24 -1.16 L44.28 -0.47 L44.32 0.23 L44.36 0.92 L44.40 1.62 L44.44 2.32 L44.49 3.01 L44.53 3.71 L44.57 4.41 L44.62 5.11 L44.66 5.82 L44.71 6.52 L44.75 7.23 L44.80 7.93 L44.84 8.64 L44.89 9.35 L44.94 10.05 L44.98 10.76 L45.03 11.48 L45.08 12.19 L45.13 12.90 L45.18 13.62 L45.23 14.33 L45.28 15.05 L45.33 15.77 L45.38 16.49 L45.43 17.21 L45.48 17.93 L45.54 18.65 L45.59 19.37 L45.64 20.10 L45.70 20.82 L45.75 21.55 L45.81 22.28 L45.86 23.00 L45.92 23.73 L45.98 24.47 L46.03 25.20 L46.09 25.93 L46.15 26.66 L46.21 27.40 L46.27 28.14 L46.33 28.87 L46.39 29.61 L46.45 30.35 L46.51 31.09 L46.57 31.83 L46.64 32.58 L46.70 33.32 L46.77 34.07 L46.83 34.81 L46.90 35.56 L46.96 36.31 L47.03 37.06 L47.10 37.81 L47.17 38.56 L47.23 39.31 L47.30 40.06 L47.37 40.82 L47.44 41.57 L47.52 42.33 L47.59 43.09 L47.66 43.85 L47.73 44.61 L47.81 45.37 L47.88 46.13 L47.96 46.89 L48.04 47.66 L48.11 48.42 L48.19 49.19 L48.27 49.95 L48.35 50.72 L48.43 51.49 L48.51 52.26 L48.59 53.03 L48.67 53.80 L48.76 54.58 L48.84 55.35 L48.93 56.12 L49.01 56.90 L49.10 57.68 L49.19 58.45 L49.27 59.23 L49.36 60.01 L49.45 60.79 L49.54 61.57 L49.64 62.36 L49.73 63.14 L49.82 63.92 L49.92 64.71 L50.01 65.50 L50.11 66.28 L50.20 67.07 L50.30 67.86 L50.40 68.65 L50.50 69.44 L50.60 70.23 L50.70 71.02 L50.81 71.82 L50.91 72.61 L51.01 73.40 L51.12 74.20 L51.23 75.00 L51.34 75.79 L51.44 76.59 L51.55 77.39 L51.67 78.19 L51.78 78.99 L51.89 79.79 L52.00 80.59 L52.12 81.40 L52.24 82.20 L52.35 83.01 L52.47 83.81 L52.59 84.62 L52.71 85.42 L52.83 86.23 L52.96 87.04 L53.08 87.85 L53.21 88.66 L53.33 89.47 L53.46 90.28 L53.59 91.09 L53.72 91.90 L53.85 92.72 L53.99 93.53 L54.12 94.34 L54.26 95.16 L54.39 95.98 L54.53 96.79 L54.67 97.61 L54.81 98.43 L54.96 99.24 L55.10 100.06 L55.24 100.88 L55.39 101.70 L55.54 102.52 L55.69 103.34 L55.84 104.17 L55.99 104.99 L56.14 105.81 L56.30 106.63 L56.45 107.46 L56.61 108.28 L56.77 109.11 L56.93 109.93 L57.10 110.76 L57.26 111.58 L57.43 112.41 L57.59 113.24 L57.76 114.07 L57.93 114.89 L58.10 115.72 L58.28 116.55 L58.45 117.38 L58.63 118.21 L58.81 119.04 L58.99 119.87 L59.17 120.70 L59.36 121.53 L59.54 122.36 L59.73 123.20 L59.92 124.03 L60.11 124.86 L60.30 125.69 L60.50 126.53 L60.70 127.36 L60.90 128.19 L61.10 129.03 L61.30 129.86 L61.50 130.70 L61.71 131.53 L61.92 132.37 L62.13 133.20 L62.34 134.04 L62.56 134.87 L62.77 135.71 L62.99 136.55 L63.21 137.38 L63.43 138.22 L63.66 139.05 L63.89 139.89 L64.12 140.73 L64.35 141.56 L64.58 142.40 L64.82 143.24 L65.06 144.08 L65.30 144.91 L65.54 145.75 L65.78 146.59 L66.03 147.42 L66.28 148.26 L66.53 149.10 L66.79 149.94 L67.05 150.77 L67.31 151.61 L67.57 152.45 L67.83 153.29 L68.10 154.12 L68.37 154.96 L68.64 155.80 L68.92 156.63 L69.19 157.47 L69.48 158.31 L69.76 159.15 L70.04 159.98 L70.33 160.82 L70.62 161.65 L70.92 162.49 L71.21 163.33 L71.51 164.16 L71.82 165.00 L72.12 165.83 L72.43 166.67 L72.74 167.50 L73.06 168.34 L73.37 169.17 L73.69 170.01 L74.02 170.84 L74.34 171.67 L74.67 172.51 L75.01 173.34 L75.34 174.17 L75.68 175.01 L76.03 175.84 L76.37 176.67 L76.72 177.50 L77.07 178.33 L77.43 179.16 L77.79 179.99 L78.15 180.82 L78.52 181.65 L78.89 182.48 L79.26 183.31 L79.64 184.14 L80.02 184.97 L80.40 185.79 L80.79 186.62 L81.18 187.44 L81.58 188.27 L81.98 189.10 L82.38 189.92 L82.79 190.74 L83.20 191.57 L83.61 192.39 L84.03 193.21 L84.45 194.03 L84.88 194.86 L85.31 195.68 L85.75 196.50 L86.19 197.32 L86.63 198.13 L87.08 198.95 L87.53 199.77 L87.99 200.59 L88.45 201.40 L88.91 202.22 L89.38 203.03 L89.86 203.85 L90.33 204.66 L90.82 205.47 L91.31 206.28 L91.80 207.09 L92.30 207.90 L92.80 208.71 L93.31 209.52 L93.82 210.33 L94.33 211.14 L94.86 211.94 L95.38 212.75 L95.91 213.55 L96.45 214.36 L96.99 215.16 L97.54 215.96 L98.09 216.76 L98.65 217.56 L99.21 218.36 L99.78 219.16 L100.36 219.96 L100.94 220.75 L101.52 221.55 L102.11 222.34 L102.71 223.14 L103.31 223.93 L103.92 224.72 L104.53 225.51 L105.15 226.30 L105.78 227.09 L106.41 227.88 L107.05 228.66 L107.69 229.45 L108.34 230.23 L109.00 231.02 L109.66 231.80 L110.33 232.58 L111.00 233.36 L111.68 234.14 L112.37 234.92 L113.07 235.69 L113.77 236.47 L114.48 237.24 L115.19 238.01 L115.92 238.79 L116.64 239.56 L117.38 240.33 L118.12 241.10 L118.87 241.86 L119.63 242.63 L120.40 243.39 L121.17 244.16 L121.95 244.92 L122.73 245.68 L123.53 246.44 L124.33 247.20 L125.14 247.96 L125.96 248.71 L126.78 249.47 L127.62 250.22 L128.46 250.97 L129.31 251.72 L130.16 252.47 L131.03 253.22 L131.90 253.97 L132.79 254.71 L133.68 255.46 L134.58 256.20 L135.48 256.94 L136.40 257.68 L137.33 258.42 L138.26 259.16 L139.21 259.89 L140.16 260.63 L141.12 261.36 L142.09 262.09 L143.07 262.82 L144.06 263.55 L145.06 264.28 L146.07 265.00 L147.09 265.73 L148.12 266.45 L149.15 267.17 L150.20 267.89 L151.26 268.61 L152.33 269.32 L153.41 270.04 L154.50 270.75 L155.59 271.47 L156.70 272.18 L157.83 272.88 L158.96 273.59 L160.10 274.30 L161.25 275.00 L162.42 275.71 L163.59 276.41 L164.78 277.11 L165.98 277.80 L167.19 278.50 L168.41 279.19 L169.64 279.89 L170.89 280.58 L172.14 281.27 L173.41 281.96 L174.69 282.64 L175.99 283.33 L177.29 284.01 L178.61 284.69 L179.94 285.37 L181.28 286.05 L182.64 286.73 L184.01 287.40 L185.39 288.08 L186.79 288.75 L188.20 289.42 L189.62 290.09 L191.06 290.75 L192.51 291.42 L193.97 292.08 L195.45 292.74 L196.94 293.40 L198.45 294.06 L199.97 294.72 L201.51 295.37 L203.06 296.02 L204.63 296.68 L206.21 297.32 L207.80 297.97 L209.41 298.62 L211.04 299.26 L212.68 299.90 L214.34 300.54 L216.01 301.18 L217.70 301.82 L219.41 302.45 L221.13 303.09 L222.87 303.72 L224.63 304.35 L226.40 304.98 L228.19 305.60 L230.00 306.23 L231.82 306.85 L233.66 307.47 L235.52 308.09 L237.40 308.70 L239.30 309.32 L241.21 309.93 L243.14 310.54 L245.09 311.15 L247.06 311.76 L249.05 312.37 L251.06 312.97 L253.08 313.57 L255.13 314.17 L257.20 314.77 L259.28 315.37 L261.39 315.96 L263.51 316.56 L265.66 317.15 L267.83 317.73 L270.01 318.32 L272.22 318.91 L274.45 319.49 L276.70 320.07 L278.98 320.65 L281.27 321.23 L283.59 321.80 L285.93 322.38 L288.29 322.95 L290.67 323.52 L293.08 324.09 L295.51 324.66 L297.96 325.22 L300.44 325.78 L302.94 326.34 L305.47 326.90 L308.01 327.46 L310.59 328.01 L313.19 328.57 L315.81 329.12 L318.46 329.67 L321.13 330.21 L323.83 330.76 L326.56 331.30 L329.31 331.84 L332.09 332.38 L334.89 332.92 L337.72 333.46 L340.58 333.99 L343.47 334.52 L346.38 335.05 L349.32 335.58 L352.29 336.10 L355.29 336.63 L358.32 337.15 L361.37 337.67 L364.46 338.19 L367.58 338.71 L370.72 339.22 L373.90 339.73 L377.10 340.24 L380.34 340.75 L383.61 341.26 L386.91 341.76 L390.24 342.27 L393.60 342.77 L397.00 343.27 L400.42 343.76 L403.89 344.26 L407.38 344.75 L410.91 345.24 L414.47 345.73 L418.06 346.22 L421.69 346.70 L425.36 347.19 L429.06 347.67 L432.80 348.15 L436.57 348.63 L440.38 349.10 L444.22 349.58 L448.10 350.05 L452.02 350.52 L455.98 350.99 L459.97 351.45 L464.00 351.92 L468.07 352.38 L472.18 352.84 L476.33 353.30 L480.52 353.76 L484.75 354.21 L489.02 354.66 L493.34 355.11 L497.69 355.56 L502.08 356.01 L506.52 356.46 L511.00 356.90" stroke="#f7d512" stroke-opacity="0.75" stroke-width="1.6" stroke-dasharray="1.60 2.64"/>
<path d="M197.00 360.3 V2.6" stroke="#000" stroke-width="1.6" stroke-dasharray="5.92 2.56" stroke-dashoffset="-2.2"/>
</g>
<rect x="35.35" y="2.6" width="480.04999999999995" height="357.7" fill="none" stroke="#1c1c1c" stroke-width="1.0"/>
<g stroke="#222" stroke-width="0.85">
<path d="M40.00 360.3 v3.6"/>
<path d="M134.20 360.3 v3.6"/>
<path d="M228.40 360.3 v3.6"/>
<path d="M322.60 360.3 v3.6"/>
<path d="M416.80 360.3 v3.6"/>
<path d="M511.00 360.3 v3.6"/>
<path d="M35.35 356.90 h-3.6"/>
<path d="M35.35 283.15 h-3.6"/>
<path d="M35.35 209.40 h-3.6"/>
<path d="M35.35 135.65 h-3.6"/>
<path d="M35.35 61.90 h-3.6"/>
</g>
<g font-size="10.5" fill="#1a1a1a">
<text x="40.00" y="376.10" text-anchor="middle">0.0</text>
<text x="134.20" y="376.10" text-anchor="middle">0.2</text>
<text x="228.40" y="376.10" text-anchor="middle">0.4</text>
<text x="322.60" y="376.10" text-anchor="middle">0.6</text>
<text x="416.80" y="376.10" text-anchor="middle">0.8</text>
<text x="511.00" y="376.10" text-anchor="middle">1.0</text>
<text x="27.75" y="361.00" text-anchor="end">1</text>
<text x="27.75" y="287.25" text-anchor="end">2</text>
<text x="27.75" y="213.50" text-anchor="end">3</text>
<text x="27.75" y="139.75" text-anchor="end">4</text>
<text x="27.75" y="66.00" text-anchor="end">5</text>
</g>
<text x="137.7" y="395.4" font-size="15.5" fill="#1a1a1a" xml:space="preserve">Effective Thermal Conductivity, <tspan font-style="italic" dx="0.8">κ</tspan><tspan font-style="italic" font-size="10.85" dy="2.5" dx="0.6">eff</tspan></text>
<text transform="translate(13.6 253.5) rotate(-90)" font-size="15.35" fill="#1a1a1a">Yield Amplification</text>
<text transform="translate(192.6 183.2) rotate(-90)" font-size="11.3" fill="#1a1a1a" xml:space="preserve">κ<tspan font-size="7.9" dy="1.8">eff</tspan><tspan dy="-1.8"> = 1/3</tspan></text>
<rect x="223.8" y="9.5" width="285.7" height="157.5" rx="2.6" fill="#fff" fill-opacity="0.8" stroke="#ccc" stroke-width="1"/>
<path d="M228.9 20.3 H254.6" stroke="#d95319" stroke-width="1.6" stroke-linecap="square"/>
<path d="M228.9 39.5 H254.6" stroke="#47522f" stroke-width="1.6" stroke-dasharray="5.92 2.56"/>
<path d="M228.9 59.0 H254.6" stroke="#edb120" stroke-width="1.6" stroke-dasharray="10.24 2.56 1.60 2.56"/>
<path d="M228.9 78.6 H254.6" stroke="#f7d512" stroke-opacity="0.75" stroke-width="1.6" stroke-dasharray="1.60 2.64"/>
<circle cx="241.80" cy="98.50" r="3.80" fill="#f8481a"/>
<path d="M241.80 114.00 L245.60 121.60 L238.00 121.60Z" fill="#556b2f"/>
<rect x="238.00" y="133.20" width="7.60" height="7.60" fill="#ffa500"/>
<path d="M238.30 152.70 L245.30 159.70 M238.30 159.70 L245.30 152.70" stroke="#f7d512" stroke-width="1.55" fill="none"/>
<g font-size="12.95" fill="#1a1a1a">
<text x="265.3" y="24.40" xml:space="preserve">Theory Symcap (<tspan font-style="italic">T</tspan><tspan font-size="9.06" dy="2.1"><tspan font-style="italic">B</tspan><tspan dx="1.2">=</tspan><tspan dx="1.2">0</tspan></tspan><tspan dy="-2.1" dx="3">=</tspan><tspan dx="3">3.52</tspan><tspan font-style="italic">keV</tspan>)</text>
<text x="265.3" y="43.90" xml:space="preserve">Theory Layered (<tspan font-style="italic">T</tspan><tspan font-size="9.06" dy="2.1"><tspan font-style="italic">B</tspan><tspan dx="1.2">=</tspan><tspan dx="1.2">0</tspan></tspan><tspan dy="-2.1" dx="3">=</tspan><tspan dx="3">3.26</tspan><tspan font-style="italic">keV</tspan>)</text>
<text x="265.3" y="63.40" xml:space="preserve">Theory Direct-dirve (<tspan font-style="italic">T</tspan><tspan font-size="9.06" dy="2.1"><tspan font-style="italic">B</tspan><tspan dx="1.2">=</tspan><tspan dx="1.2">0</tspan></tspan><tspan dy="-2.1" dx="3">=</tspan><tspan dx="3">4.40</tspan><tspan font-style="italic">keV</tspan>)</text>
<text x="265.3" y="83.10" xml:space="preserve">Theory Cylindrical (<tspan font-style="italic">T</tspan><tspan font-size="9.06" dy="2.1"><tspan font-style="italic">B</tspan><tspan dx="1.2">=</tspan><tspan dx="1.2">0</tspan></tspan><tspan dy="-2.1" dx="3">=</tspan><tspan dx="3">2.15</tspan><tspan font-style="italic">keV</tspan>)</text>
<text x="265.3" y="102.40" xml:space="preserve">1D NIF Symcap</text>
<text x="265.3" y="121.50" xml:space="preserve">1D NIF Layered (no <tspan font-style="italic">α</tspan>-heating)</text>
<text x="265.3" y="140.50" xml:space="preserve">1D OMEGA Direct-drive</text>
<text x="265.3" y="159.50" xml:space="preserve">1D OMEGA Cylindrical</text>
</g>
</svg>
</body></html>
